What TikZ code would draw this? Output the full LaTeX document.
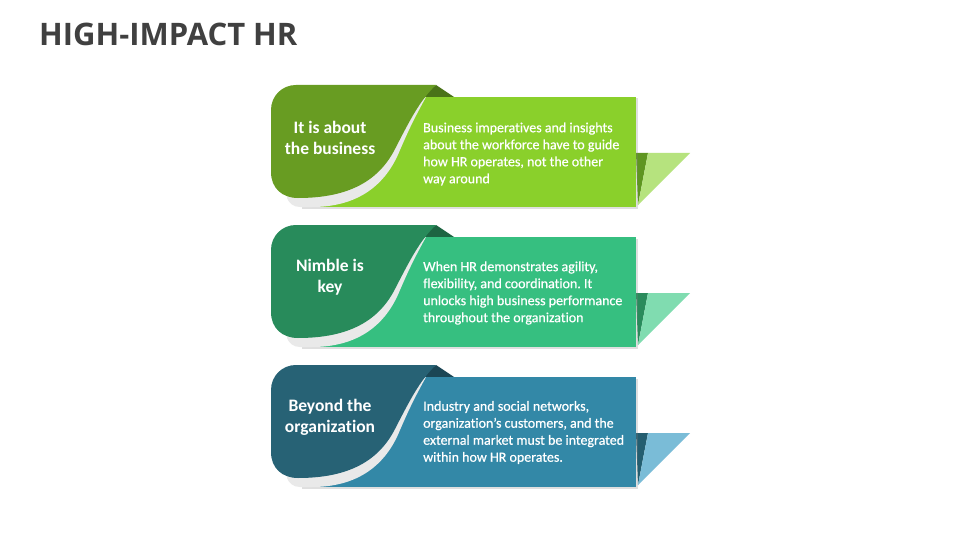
\documentclass[tikz,border=0pt]{standalone}
\usepackage{fontspec}
\setmainfont{Carlito}[Ligatures=NoCommon]
\newfontfamily\bodyfont{Carlito}[Ligatures=NoCommon, FakeBold=0.6]
\newfontfamily\titlefont{Open Sans}
\frenchspacing
\usetikzlibrary{shadows}
\definecolor{TitleGray}{HTML}{404040}
\definecolor{CurlGray}{HTML}{E9E9E9}
% band 1: green
\definecolor{Dark1}{HTML}{689C22}
\definecolor{Light1}{HTML}{8AD02B}
\definecolor{Fold1}{HTML}{4A7318}
\definecolor{Sliver1}{HTML}{5F9621}
\definecolor{Flap1}{HTML}{B6E37E}
% band 2: teal green
\definecolor{Dark2}{HTML}{288B5B}
\definecolor{Light2}{HTML}{36BF80}
\definecolor{Fold2}{HTML}{1D6542}
\definecolor{Sliver2}{HTML}{2A8B5C}
\definecolor{Flap2}{HTML}{80DCB0}
% band 3: blue
\definecolor{Dark3}{HTML}{276275}
\definecolor{Light3}{HTML}{3388A7}
\definecolor{Fold3}{HTML}{1B4655}
\definecolor{Sliver3}{HTML}{245E70}
\definecolor{Flap3}{HTML}{7ABCD7}
\tikzset{
  headtext/.style={text=white, align=center, inner sep=0pt, font=\fontsize{17.5}{21}\selectfont\bfseries},
  bodytext/.style={text=white, align=left, anchor=west, inner sep=0pt, font=\bodyfont\fontsize{14}{17}\selectfont},
  panel/.style={drop shadow={shadow xshift=1.5pt, shadow yshift=-1.5pt, opacity=0.25}}
}
\begin{document}
\begin{tikzpicture}[x=1pt, y=-1pt]
\useasboundingbox[fill=white] (0,0) rectangle (960,540);

\node[font=\titlefont\bfseries\fontsize{31}{36}\selectfont, text=TitleGray, anchor=base west, inner sep=0pt] (title) at (39,46) {HIGH-IMPACT HR};

\foreach \i/\oy in {1/0, 2/140, 3/280}{
  \begin{scope}[shift={(0,\oy)}]
    % fold at top of the tab
    \fill[fill=Fold\i] (421,97) -- (436,85) -- (454,97) -- cycle;
    % fold at the right end
    \fill[fill=Sliver\i] (636,153) -- (648,153) -- (638,205) -- cycle;
    \fill[fill=Flap\i] (648,153) -- (690,153) -- (638,205) -- cycle;
    % panel
    \fill[panel, fill=Light\i] (300,97) rectangle (636,207);
    % curl under the tab
    \fill[fill=CurlGray] (426,97) .. controls (414,119) and (410,127) .. (400,150)
      .. controls (386,185) and (358,207) .. (312,207) -- (300,207)
      .. controls (293,207) and (289,203) .. (287,198) -- (300,150) -- cycle;
    % tab
    \fill[fill=Dark\i] (436,85) .. controls (420,100) and (410,120) .. (396,147)
      .. controls (380,180) and (350,198) .. (298,198)
      .. controls (282,198) and (271,188) .. (271,172) -- (271,110)
      .. controls (271,96) and (282,85) .. (296,85) -- cycle;
  \end{scope}
}

\node[headtext] (head1) at (330,137.5) {It is about\\the business};
\node[bodytext] (body1) at (423,154) {Business imperatives and insights\\about the workforce have to guide\\how HR operates, not the other\\way around};

\node[headtext] (head2) at (330,277.5) {Nimble is\\key};
\node[bodytext] (body2) at (423,293) {When HR demonstrates agility,\\flexibility, and coordination. It\\unlocks high business performance\\throughout the organization};

\node[headtext] (head3) at (330,417) {Beyond the\\organization};
\node[bodytext] (body3) at (423,432.5) {Industry and social networks,\\organization’s customers, and the\\external market must be integrated\\within how HR operates.};
\end{tikzpicture}
\end{document}
